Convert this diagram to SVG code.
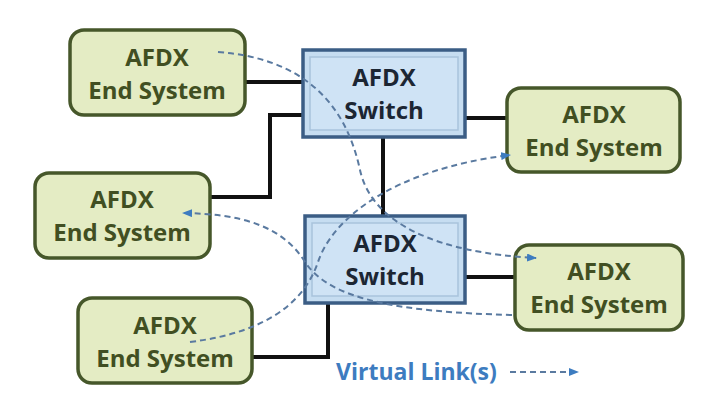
<svg xmlns="http://www.w3.org/2000/svg" width="723" height="408" viewBox="0 0 723 408">
<style>
.es rect{fill:#e4ecc4;stroke:#46572a;stroke-width:3.5}
.sw rect{fill:#c6ddf1;stroke:#3b5d85;stroke-width:3.5}
.sw rect.inner{fill:#cfe3f5;stroke:#a9c3dc;stroke-width:1.5}
.t{font-family:"Open Sans","Liberation Sans",sans-serif;font-weight:bold;font-size:24px;text-anchor:middle}
.es text{fill:#414f22}
.sw text{fill:#1c2633}
.wire{fill:none;stroke:#111;stroke-width:4}
.vl{fill:none;stroke:#5a7aa0;stroke-width:2;stroke-dasharray:6 4}
</style>
<defs>
<marker id="ah" markerWidth="10" markerHeight="8" refX="9" refY="4" orient="auto" markerUnits="userSpaceOnUse">
<path d="M0,0 L10,4 L0,8 z" fill="#3d7cc0"/>
</marker>
</defs>
<g id="connectors">
<path class="wire" d="M245,82 H303"/>
<path class="wire" d="M303,115 H270 V197 H210"/>
<path class="wire" d="M465,118 H507"/>
<path class="wire" d="M383,137 V216"/>
<path class="wire" d="M465,277 H515"/>
<path class="wire" d="M328,303 V357 H252"/>
</g>
<g id="es1" class="es"><rect x="70" y="30" width="175" height="85" rx="14"/><text class="t" x="157" y="66">AFDX</text><text class="t" x="157" y="99">End System</text></g>
<g id="sw1" class="sw"><rect x="303" y="50" width="162" height="87"/><rect class="inner" x="310" y="57" width="148" height="73"/><text class="t" x="384" y="86">AFDX</text><text class="t" x="384" y="119">Switch</text></g>
<g id="es2" class="es"><rect x="507" y="88" width="173" height="84" rx="14"/><text class="t" x="594" y="123">AFDX</text><text class="t" x="594" y="156">End System</text></g>
<g id="es3" class="es"><rect x="35" y="173" width="175" height="85" rx="14"/><text class="t" x="122" y="208">AFDX</text><text class="t" x="122" y="241">End System</text></g>
<g id="sw2" class="sw"><rect x="305" y="216" width="160" height="87"/><rect class="inner" x="312" y="223" width="146" height="73"/><text class="t" x="385" y="252">AFDX</text><text class="t" x="385" y="285">Switch</text></g>
<g id="es4" class="es"><rect x="515" y="245" width="168" height="85" rx="14"/><text class="t" x="599" y="280">AFDX</text><text class="t" x="599" y="313">End System</text></g>
<g id="es5" class="es"><rect x="78" y="298" width="174" height="85" rx="14"/><text class="t" x="165" y="334">AFDX</text><text class="t" x="165" y="367">End System</text></g>
<g id="virtual-links">
<path class="vl" marker-end="url(#ah)" d="M218,52 C300,58 345,100 360,170 C372,225 440,253 536,258"/>
<path class="vl" marker-end="url(#ah)" d="M512,315 C400,312 330,300 305,262 C282,225 240,214 183,213"/>
<path class="vl" marker-end="url(#ah)" d="M190,342 C270,332 305,300 318,262 C332,220 390,170 510,155"/>
<path class="vl" marker-end="url(#ah)" d="M510,372 H578"/>
</g>
<text x="336" y="380" style="font-family:'Open Sans','Liberation Sans',sans-serif;font-weight:bold;font-size:23px;fill:#3d7cc0">Virtual Link(s)</text>
</svg>
